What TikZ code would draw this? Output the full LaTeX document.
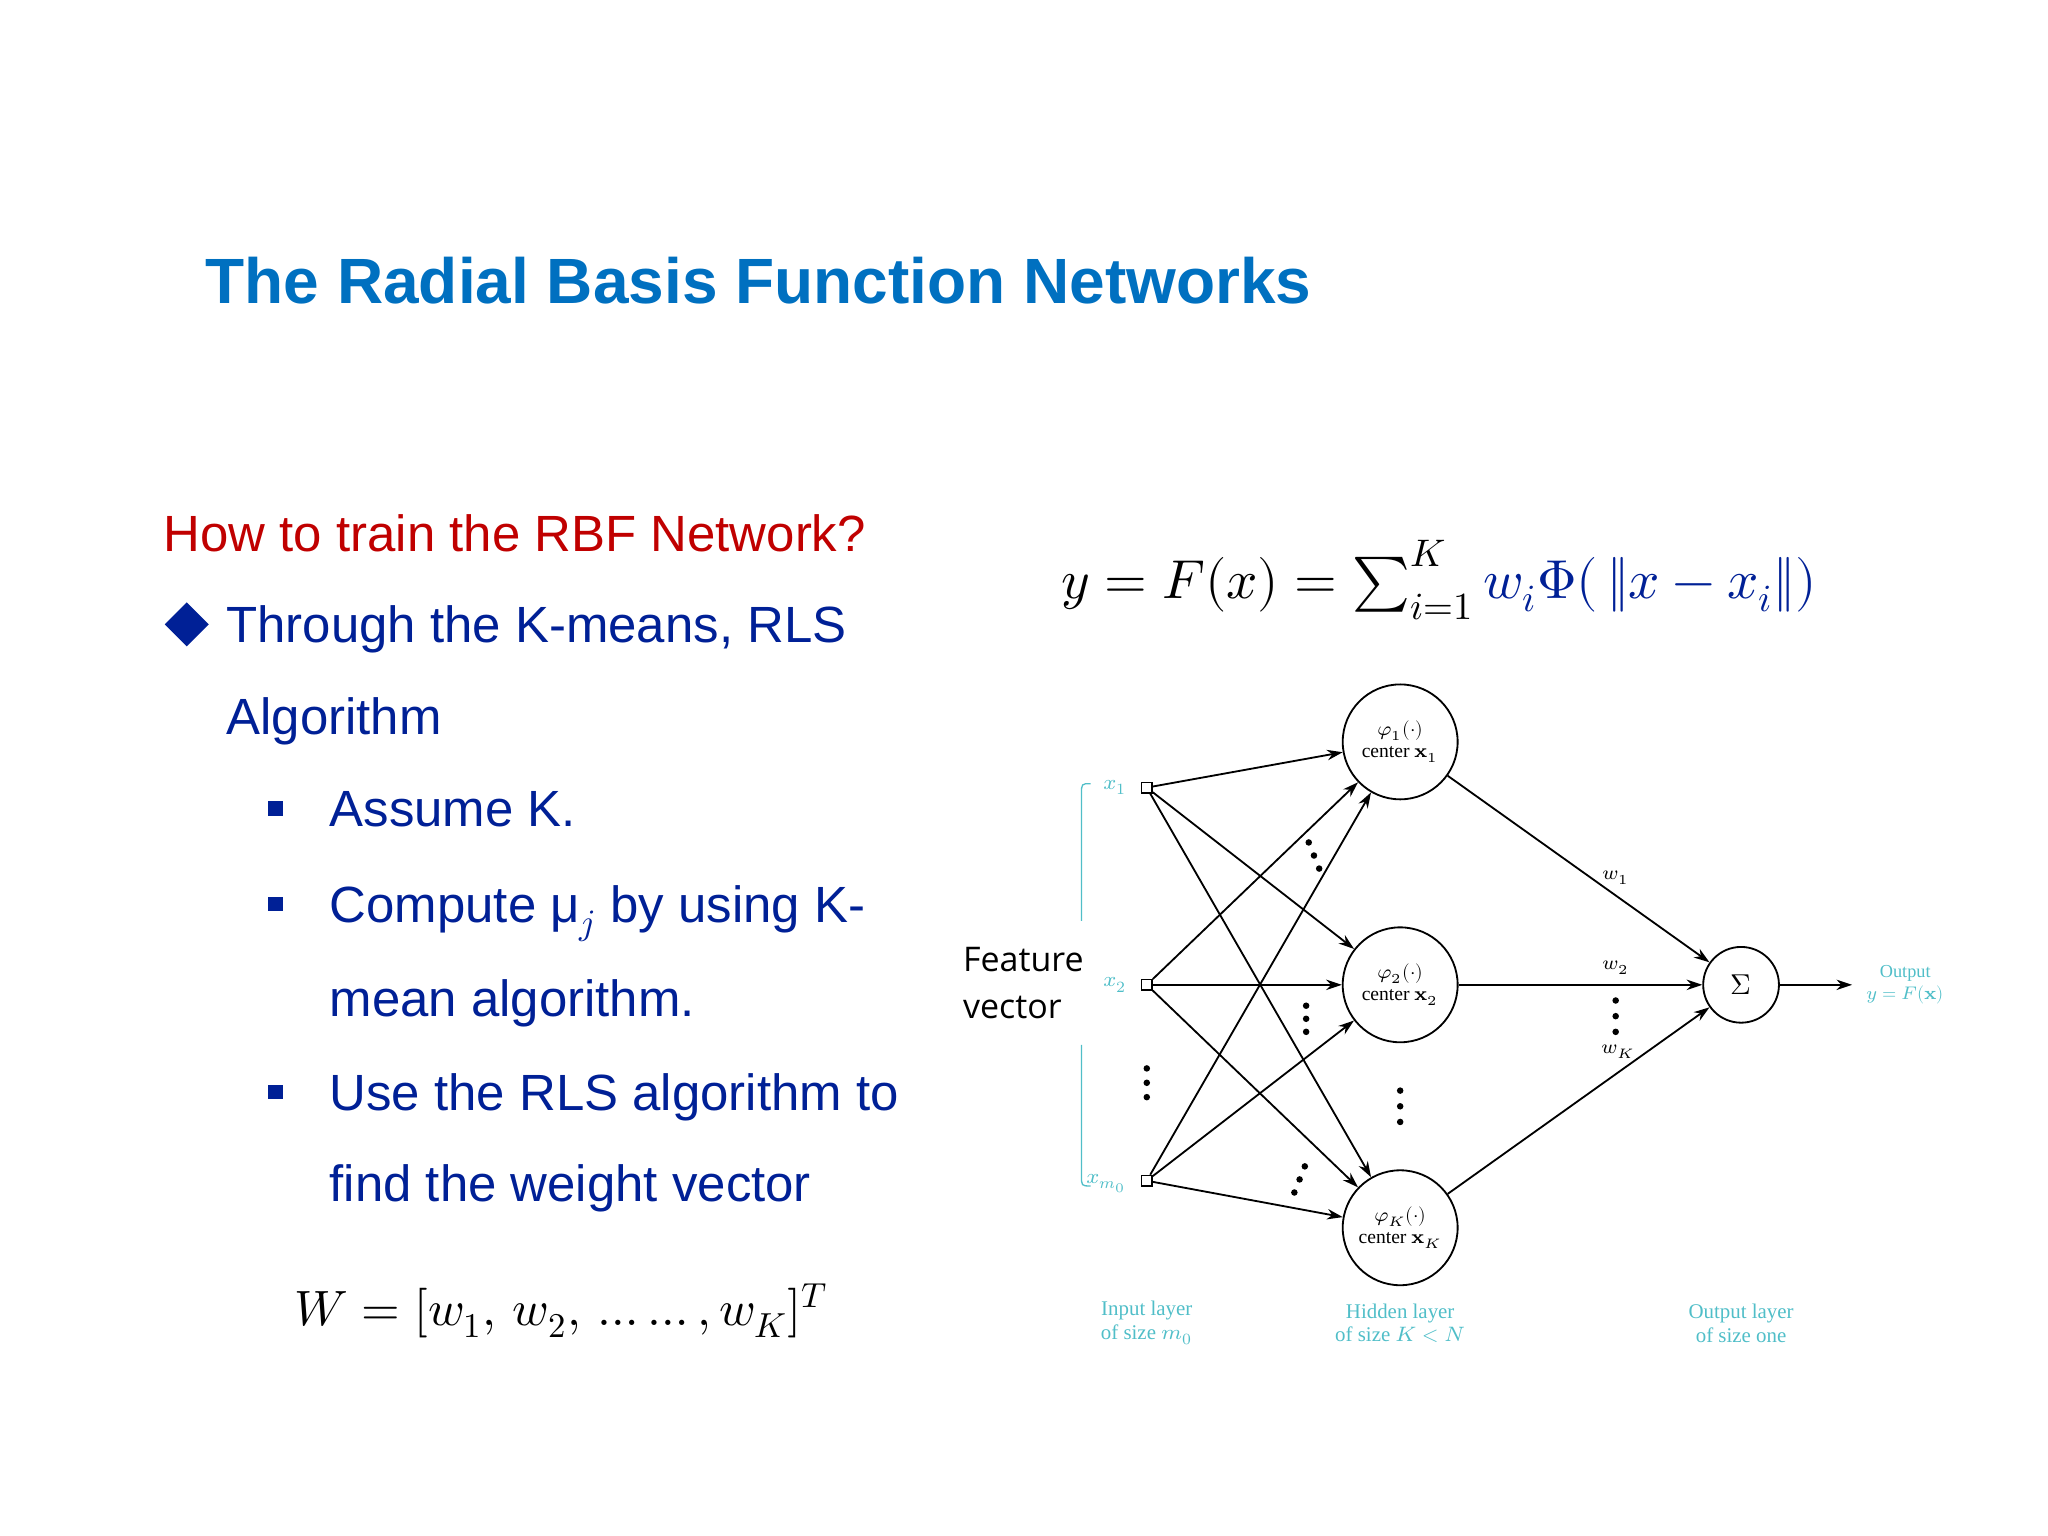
\documentclass[tikz,border=0pt]{standalone}
\usepackage{fontspec}
\setmainfont{Liberation Sans}
\newfontfamily\opensans{Open Sans}
\newfontfamily\serifdiag{Liberation Serif}
\usepackage{unicode-math}
\setmathfont{Latin Modern Math}
\usetikzlibrary{arrows.meta,shapes.geometric}
\definecolor{titleblue}{RGB}{0,112,192}
\definecolor{darkred}{RGB}{192,0,0}
\definecolor{navy}{RGB}{0,32,150}
\definecolor{teal}{RGB}{80,190,200}
\newcommand{\ctr}[1]{{\serifdiag center} $\symbf{x}_{#1}$}
\begin{document}
\begin{tikzpicture}[x=0.5pt,y=-0.5pt,
  body/.style={anchor=base west,inner sep=0,text=navy,font=\fontsize{19.5}{24}\selectfont},
  hid/.style={circle,draw,line width=0.7pt,minimum size=44pt,inner sep=0,align=center,font=\serifdiag\fontsize{7.5}{8.5}\selectfont},
  inp/.style={draw,line width=0.6pt,minimum size=4pt,inner sep=0},
  arr/.style={-{Stealth[length=6pt,width=4pt]},line width=0.7pt},
  lab/.style={text=teal,font=\serifdiag\fontsize{8}{9}\selectfont,align=center},
  dot/.style={circle,fill,inner sep=0,minimum size=2pt}]
\useasboundingbox (0,0) rectangle (1568,1176);
% title
\node[anchor=base west,inner sep=0,text=titleblue,font=\fontsize{24.5}{28}\selectfont\bfseries] (title) at (157,232) {The Radial Basis Function Networks};
\node[anchor=base west,inner sep=0,text=darkred,font=\fontsize{19.5}{24}\selectfont] (q) at (125,422) {How to train the RBF Network?};
\node[diamond,fill=navy,inner sep=0,minimum size=17pt] (dia) at (143,478) {};
\node[body] (t1) at (173,492) {Through the K-means, RLS};
\node[body] (t2) at (173,562) {Algorithm};
\foreach \y/\n in {619/b1,692/b2,836/b3} \node[fill=navy,inner sep=0,minimum size=5.5pt] (\n) at (211,\y) {};
\node[body] (s1) at (252,633) {Assume K.};
\node[body] (s2) at (252,706) {Compute $\mathrm{μ}_{j}$ by using K-};
\node[body] (s3) at (252,778) {mean algorithm.};
\node[body] (s4) at (252,850) {Use the RLS algorithm to};
\node[body] (s5) at (252,920) {find the weight vector};
\node[anchor=base,inner sep=0,font=\fontsize{19}{24}\selectfont] (W) at (430,1015) {$W=[w_1,\,w_2,\,\ldots\ldots,w_K]^T$};
\node[anchor=base west,inner sep=0,font=\fontsize{21}{24}\selectfont] (F) at (812,458) {$y=F(x)=\sum_{i=1}^{K}\textcolor{navy}{w_i\Phi(\,\|x-x_i\|)}$};
% diagram
\node[hid] (h1) at (1072,568) {$\varphi_1(\cdot)$\\\ctr{1}};
\node[hid] (h2) at (1072,754) {$\varphi_2(\cdot)$\\\ctr{2}};
\node[hid] (hK) at (1072,940) {$\varphi_K(\cdot)$\\\ctr{K}};
\node[circle,draw,line width=0.7pt,minimum size=29pt,inner sep=0,font=\fontsize{11}{12}\selectfont] (sum) at (1333,754) {$\Sigma$};
\node[inp] (i1) at (878,603) {};
\node[inp] (i2) at (878,754) {};
\node[inp] (im) at (878,904) {};
\foreach \i in {i1,i2,im} \foreach \h in {h1,h2,hK} \draw[arr] (\i) -- (\h);
\foreach \h in {h1,h2,hK} \draw[arr] (\h) -- (sum);
\coordinate (out) at (1418,754);
\draw[arr] (sum) -- (out);
\node[lab,left] (l1) at (870,603) {$x_1$};
\node[lab,left] (l2) at (870,754) {$x_2$};
\node[lab,left] (l3) at (870,906) {$x_{m_0}$};
\node[lab,anchor=west,font=\serifdiag\fontsize{7}{8.5}\selectfont] (o) at (1422,754) {Output\\$y=F(\symbf{x})$};
\node[lab] (L1) at (878,1013) {Input layer\\of size $m_0$};
\node[lab] (L2) at (1072,1013) {Hidden layer\\of size $K<N$};
\node[lab] (L3) at (1333,1013) {Output layer\\of size one};
\node[font=\serifdiag\fontsize{7.5}{8}\selectfont] (w1) at (1237,672) {$w_1$};
\node[font=\serifdiag\fontsize{7.5}{8}\selectfont] (w2) at (1237,741) {$w_2$};
\node[font=\serifdiag\fontsize{7.5}{8}\selectfont] (wK) at (1239,805) {$w_K$};
\foreach \x/\y in {1237/766,1237/778,1237/790, 1000/770,1000/780,1000/790, 878/818,878/829,878/840, 1072/835,1072/847,1072/859, 1002/645,1006/655,1010/665, 999/893,995/903,991/913}
  \node[dot,minimum size=2.5pt] at (\x,\y) {};
\node[anchor=base west,inner sep=0,font=\opensans\fontsize{13}{16}\selectfont] (fv1) at (737,744) {Feature};
\node[anchor=base west,inner sep=0,font=\opensans\fontsize{13}{16}\selectfont] (fv2) at (737,780) {vector};
\draw[teal,line width=0.5pt] (835,600) .. controls (828,600) .. (828,608) -- (828,705);
\draw[teal,line width=0.5pt] (828,800) -- (828,900) .. controls (828,908) .. (835,908);
\end{tikzpicture}
\end{document}
